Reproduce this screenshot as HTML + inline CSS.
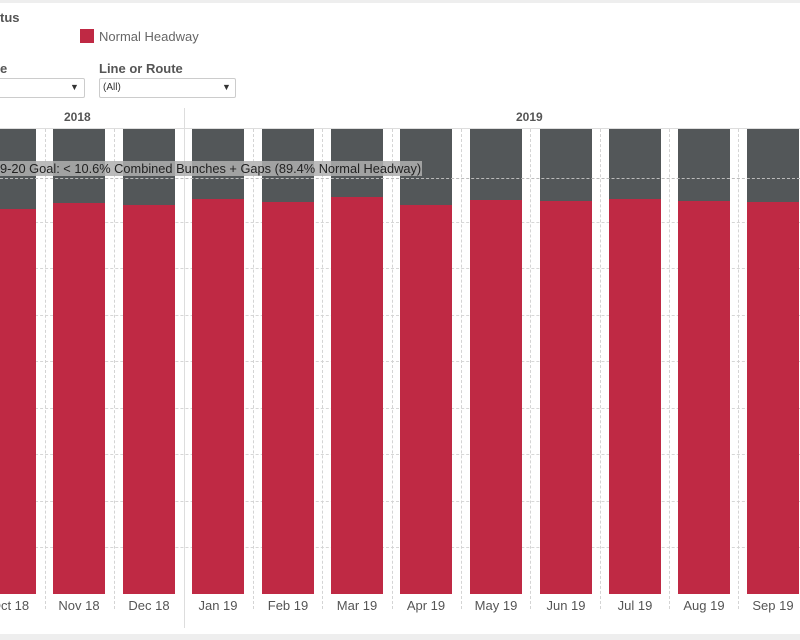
<!DOCTYPE html>
<html><head><style>
body{margin:0;width:800px;height:640px;overflow:hidden;background:#fff;font-family:"Liberation Sans",Arial,sans-serif;position:relative}
.a{position:absolute}
.bar{position:absolute;width:52px;top:129px;height:465px;background:#535759}
.red{position:absolute;left:0;right:0;bottom:0;background:#bf2944}
.lbl{position:absolute;top:598px;width:70px;text-align:center;font-size:13px;color:#555}
.vd{position:absolute;top:129px;height:480px;border-left:1px dashed #d4d4d4}
.hg{position:absolute;left:0;width:800px;border-top:1px dashed #d6d6d6}
</style></head><body>
<div class="a" style="left:0;top:0;width:800px;height:3px;background:#eee"></div>
<div class="a" style="left:0;top:10px;font-size:13px;font-weight:bold;color:#555">tus</div>
<div class="a" style="left:80px;top:29px;width:14px;height:14px;background:#bf2944"></div>
<div class="a" style="left:99px;top:29px;font-size:13px;color:#666">Normal Headway</div>
<div class="a" style="left:0;top:61px;font-size:13px;font-weight:bold;color:#555">e</div>
<div class="a" style="left:99px;top:61px;font-size:13px;font-weight:bold;color:#555">Line or Route</div>
<div class="a" style="left:-2px;top:78px;width:85px;height:18px;border:1px solid #ccc;border-radius:2px"></div>
<div class="a" style="left:70px;top:82px;font-size:9px;color:#333">▼</div>
<div class="a" style="left:99px;top:78px;width:132px;height:18px;border:1px solid #ccc;border-radius:2px;font-size:10px;color:#333;line-height:18px;padding-left:3px">(All)</div>
<div class="a" style="left:222px;top:82px;font-size:9px;color:#333">▼</div>
<div class="a" style="left:64px;top:110px;font-size:12px;font-weight:bold;color:#555">2018</div>
<div class="a" style="left:516px;top:110px;font-size:12px;font-weight:bold;color:#555">2019</div>
<div class="a" style="left:0;top:128px;width:800px;height:1px;background:#ddd"></div>
<div class="a" style="left:184px;top:108px;width:1px;height:520px;background:#ddd"></div>
<div class="hg" style="top:222px"></div><div class="hg" style="top:268px"></div><div class="hg" style="top:315px"></div><div class="hg" style="top:361px"></div><div class="hg" style="top:408px"></div><div class="hg" style="top:454px"></div><div class="hg" style="top:501px"></div><div class="hg" style="top:547px"></div>
<div class="vd" style="left:45px"></div><div class="vd" style="left:114px"></div><div class="vd" style="left:253px"></div><div class="vd" style="left:322px"></div><div class="vd" style="left:392px"></div><div class="vd" style="left:461px"></div><div class="vd" style="left:530px"></div><div class="vd" style="left:600px"></div><div class="vd" style="left:669px"></div><div class="vd" style="left:738px"></div>
<div class="bar" style="left:-16px"><div class="red" style="top:80px"></div></div>
<div class="bar" style="left:53px"><div class="red" style="top:74px"></div></div>
<div class="bar" style="left:123px"><div class="red" style="top:76px"></div></div>
<div class="bar" style="left:192px"><div class="red" style="top:70px"></div></div>
<div class="bar" style="left:262px"><div class="red" style="top:73px"></div></div>
<div class="bar" style="left:331px"><div class="red" style="top:68px"></div></div>
<div class="bar" style="left:400px"><div class="red" style="top:76px"></div></div>
<div class="bar" style="left:470px"><div class="red" style="top:71px"></div></div>
<div class="bar" style="left:540px"><div class="red" style="top:72px"></div></div>
<div class="bar" style="left:609px"><div class="red" style="top:70px"></div></div>
<div class="bar" style="left:678px"><div class="red" style="top:72px"></div></div>
<div class="bar" style="left:747px"><div class="red" style="top:73px"></div></div>
<div class="a" style="left:0;top:178px;width:800px;border-top:1px dashed #bbb"></div>
<div class="a" style="left:0;top:161px;width:422px;height:15px;background:rgba(175,175,175,0.85);font-size:12.8px;color:#222;line-height:15px;white-space:nowrap;overflow:hidden">9-20 Goal: &lt; 10.6% Combined Bunches + Gaps (89.4% Normal Headway)</div>
<div class="lbl" style="left:-25px">Oct 18</div><div class="lbl" style="left:44px">Nov 18</div><div class="lbl" style="left:114px">Dec 18</div><div class="lbl" style="left:183px">Jan 19</div><div class="lbl" style="left:253px">Feb 19</div><div class="lbl" style="left:322px">Mar 19</div><div class="lbl" style="left:391px">Apr 19</div><div class="lbl" style="left:461px">May 19</div><div class="lbl" style="left:531px">Jun 19</div><div class="lbl" style="left:600px">Jul 19</div><div class="lbl" style="left:669px">Aug 19</div><div class="lbl" style="left:738px">Sep 19</div>
<div class="a" style="left:0;top:634px;width:800px;height:6px;background:#eee"></div>
</body></html>
